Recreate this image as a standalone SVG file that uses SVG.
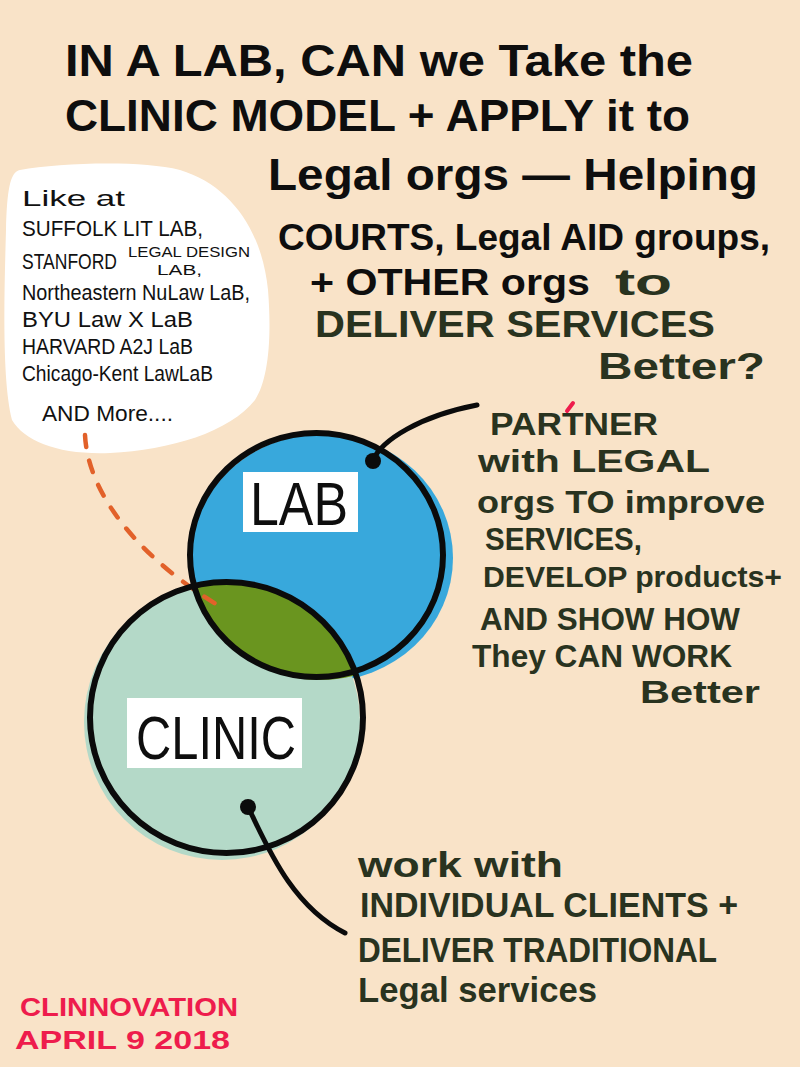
<svg xmlns="http://www.w3.org/2000/svg" width="800" height="1067" viewBox="0 0 800 1067">
<style>
.title{font-family:"Liberation Sans",Arial,sans-serif;font-weight:bold;font-size:44px;fill:#0e0e0e}
.t2{font-size:37px}
.t3{font-size:37px}
.g{fill:#29331f}
.note{font-family:"Liberation Sans",Arial,sans-serif;font-weight:bold;font-size:32px;fill:#29331f}
.n30{font-size:30px}
.note2{font-family:"Liberation Sans",Arial,sans-serif;font-weight:bold;font-size:35px;fill:#29331f}
.bub{font-family:"Liberation Sans",Arial,sans-serif;font-size:22px;fill:#111}
.small{font-size:15px}
.lbl{font-family:"Liberation Sans",Arial,sans-serif;font-size:62px;fill:#0e0e0e}
.red{font-family:"Liberation Sans",Arial,sans-serif;font-weight:bold;font-size:26px;fill:#ee1c4c}
.outline{fill:none;stroke:#0b0b0b;stroke-width:6}
.conn{fill:none;stroke:#0b0b0b;stroke-width:5;stroke-linecap:round}
</style>
<defs>
<clipPath id="labClip"><ellipse cx="320" cy="557" rx="129" ry="123"/></clipPath>
</defs>
<rect x="0" y="0" width="800" height="1067" fill="#f9e3c8"/>

<g id="title">
<text class="title" x="65" y="76" textLength="628" lengthAdjust="spacingAndGlyphs">IN A LAB, CAN we Take the</text>
<text class="title" x="65" y="131" textLength="625" lengthAdjust="spacingAndGlyphs">CLINIC MODEL + APPLY it to</text>
<text class="title" x="268" y="190" textLength="490" lengthAdjust="spacingAndGlyphs">Legal orgs — Helping</text>
<text class="title t3" x="278" y="250" textLength="492" lengthAdjust="spacingAndGlyphs">COURTS, Legal AID groups,</text>
<text class="title t2" x="310" y="295" textLength="280" lengthAdjust="spacingAndGlyphs">+ OTHER orgs</text>
<text class="title t2 g" x="615" y="295" textLength="57" lengthAdjust="spacingAndGlyphs">to</text>
<text class="title t2 g" x="315" y="337" textLength="400" lengthAdjust="spacingAndGlyphs">DELIVER SERVICES</text>
<text class="title t2 g" x="598" y="379" textLength="167" lengthAdjust="spacingAndGlyphs">Better?</text>
</g>

<g id="node-bubble">
<path d="M20,170 C60,163 140,160 180,170 C230,185 262,230 268,290 C272,340 268,380 255,400 C230,432 170,450 110,453 C60,455 25,442 12,420 C2,380 4,300 6,230 C7,190 10,172 20,170 Z" fill="#ffffff"/>
<text class="bub" x="22" y="206" textLength="103" lengthAdjust="spacingAndGlyphs">Like  at</text>
<text class="bub" x="22" y="236" textLength="181" lengthAdjust="spacingAndGlyphs">SUFFOLK LIT LAB,</text>
<text class="bub" x="22" y="269" textLength="95" lengthAdjust="spacingAndGlyphs">STANFORD</text>
<text class="bub small" x="128" y="257" textLength="122" lengthAdjust="spacingAndGlyphs">LEGAL DESIGN</text>
<text class="bub small" x="157" y="275" textLength="45" lengthAdjust="spacingAndGlyphs">LAB,</text>
<text class="bub" x="22" y="300" textLength="228" lengthAdjust="spacingAndGlyphs">Northeastern NuLaw LaB,</text>
<text class="bub" x="22" y="327" textLength="171" lengthAdjust="spacingAndGlyphs">BYU Law X LaB</text>
<text class="bub" x="22" y="354" textLength="171" lengthAdjust="spacingAndGlyphs">HARVARD A2J LaB</text>
<text class="bub" x="22" y="381" textLength="191" lengthAdjust="spacingAndGlyphs">Chicago-Kent LawLaB</text>
<text class="bub" x="42" y="421" textLength="131" lengthAdjust="spacingAndGlyphs">AND More....</text>
</g>

<g id="node-lab-fill">
<ellipse cx="322" cy="558" rx="131" ry="124" fill="#38a8dc"/>
</g>
<g id="node-clinic-fill">
<ellipse cx="222" cy="722" rx="138" ry="138" fill="#b4d9c8"/>
</g>
<g id="node-overlap">
<ellipse cx="226" cy="717" rx="136" ry="135" fill="#6a951f" clip-path="url(#labClip)"/>
</g>

<g id="connectors">
<path d="M85,435 C88,495 140,560 226,610" fill="none" stroke="#e2612a" stroke-width="4.5" stroke-linecap="round" stroke-dasharray="12 14"/>
<path class="conn" d="M373,460 C382,440 420,416 477,405"/>
<circle cx="373" cy="461" r="8" fill="#0b0b0b"/>
<path class="conn" d="M248,807 C266,843 290,905 345,933"/>
<circle cx="248" cy="807" r="8" fill="#0b0b0b"/>
</g>

<g id="node-lab">
<ellipse class="outline" cx="316.5" cy="555" rx="126.5" ry="122"/>
<rect x="243" y="472" width="115" height="60" fill="#ffffff"/>
<text class="lbl" x="250" y="525" textLength="98" lengthAdjust="spacingAndGlyphs">LAB</text>
</g>

<g id="node-clinic">
<ellipse class="outline" cx="226.5" cy="717.5" rx="136.5" ry="135.5"/>
<rect x="127" y="698" width="175" height="70" fill="#ffffff"/>
<text class="lbl" x="136" y="759" textLength="160" lengthAdjust="spacingAndGlyphs">CLINIC</text>
</g>

<g id="lab-note">
<text class="note" x="490" y="435" textLength="168" lengthAdjust="spacingAndGlyphs">PARTNER</text>
<path d="M567,411 L573,403" stroke="#ee1c4c" stroke-width="4" stroke-linecap="round"/>
<text class="note" x="478" y="472" textLength="232" lengthAdjust="spacingAndGlyphs">with LEGAL</text>
<text class="note" x="477" y="513" textLength="288" lengthAdjust="spacingAndGlyphs">orgs TO improve</text>
<text class="note" x="485" y="550" textLength="157" lengthAdjust="spacingAndGlyphs">SERVICES,</text>
<text class="note n30" x="483" y="587" textLength="299" lengthAdjust="spacingAndGlyphs">DEVELOP products+</text>
<text class="note" x="480" y="630" textLength="260" lengthAdjust="spacingAndGlyphs">AND SHOW HOW</text>
<text class="note" x="472" y="667" textLength="260" lengthAdjust="spacingAndGlyphs">They CAN WORK</text>
<text class="note" x="640" y="703" textLength="120" lengthAdjust="spacingAndGlyphs">Better</text>
</g>

<g id="clinic-note">
<text class="note2" x="358" y="877" textLength="205" lengthAdjust="spacingAndGlyphs">work with</text>
<text class="note2" x="360" y="917" textLength="378" lengthAdjust="spacingAndGlyphs">INDIVIDUAL CLIENTS +</text>
<text class="note2" x="358" y="962" textLength="359" lengthAdjust="spacingAndGlyphs">DELIVER TRADITIONAL</text>
<text class="note2" x="358" y="1002" textLength="239" lengthAdjust="spacingAndGlyphs">Legal services</text>
</g>

<g id="signature">
<text class="red" x="20" y="1016" textLength="218" lengthAdjust="spacingAndGlyphs">CLINNOVATION</text>
<text class="red" x="15" y="1049" textLength="215" lengthAdjust="spacingAndGlyphs">APRIL 9 2018</text>
</g>
</svg>
